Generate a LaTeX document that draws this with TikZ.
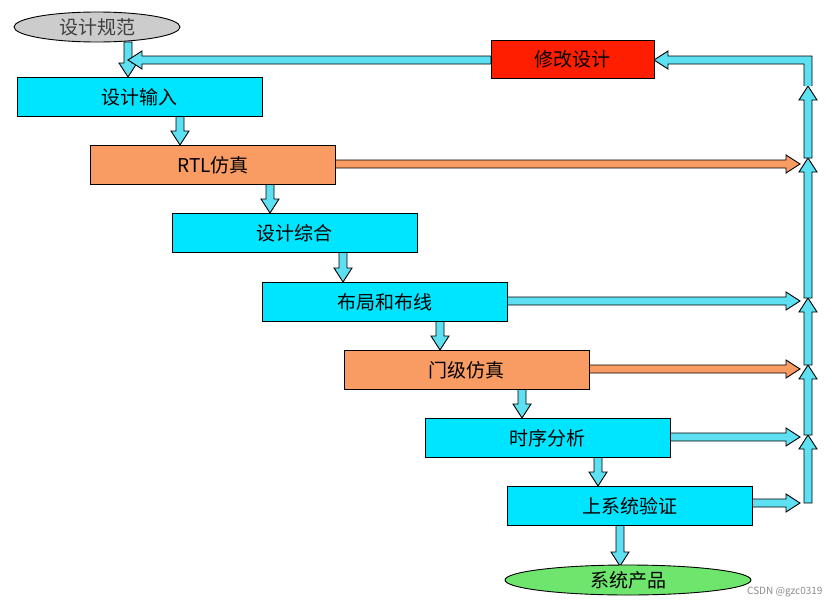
\documentclass[tikz,border=0pt]{standalone}
\usepackage{fontspec}
\usetikzlibrary{shapes.geometric}
\newfontfamily\cjk{Noto Sans CJK SC}
\definecolor{cy}{HTML}{00E5FF}
\definecolor{cya}{HTML}{5CE0F2}
\definecolor{org}{HTML}{F89C64}
\definecolor{rd}{HTML}{FF1E00}
\definecolor{gr}{HTML}{6EE66E}
\newcommand\harr[4]{%
 \pgfmathsetmacro\dir{ifthenelse(#3>#2,1,-1)}%
 \pgfmathsetmacro\hb{#3-\dir*14}%
 \filldraw[fill=#4,draw=black,line width=0.9pt] (#2,#1-4)--(\hb,#1-4)--(\hb,#1-9)--(#3,#1)--(\hb,#1+9)--(\hb,#1+4)--(#2,#1+4)--cycle;}
\newcommand\varr[4]{%
 \pgfmathsetmacro\dir{ifthenelse(#3>#2,1,-1)}%
 \pgfmathsetmacro\hb{#3-\dir*14}%
 \filldraw[fill=#4,draw=black,line width=0.9pt] (#1-4,#2)--(#1-4,\hb)--(#1-9,\hb)--(#1,#3)--(#1+9,\hb)--(#1+4,\hb)--(#1+4,#2)--cycle;}
\tikzset{box/.style={draw=black,line width=0.9pt,minimum width=245pt,minimum height=39pt,inner sep=0pt,font=\cjk\fontsize{19}{19}\selectfont,anchor=north west}}
\begin{document}
\begin{tikzpicture}[x=1pt,y=-1pt]
\useasboundingbox (0,0) rectangle (832,608);
\fill[white] (0,0) rectangle (832,608);
% down arrows
\varr{128}{42}{77}{cya}
\varr{180}{116}{145}{cya}
\varr{270}{184}{213}{cya}
\varr{343}{252}{282}{cya}
\varr{440}{321}{350}{cya}
\varr{522}{389}{418}{cya}
\varr{598}{457}{486}{cya}
\varr{620}{525}{566}{cya}
% horizontal to column
\harr{164}{335}{800}{org}
\harr{301}{507}{800}{cya}
\harr{369}{589}{800}{org}
\harr{437}{670}{800}{cya}
\harr{503}{752}{800}{cya}
% column
\varr{808}{503}{435}{cya}
\varr{808}{435}{365}{cya}
\varr{808}{365}{298}{cya}
\varr{808}{298}{158}{cya}
\varr{808}{158}{86}{cya}
\filldraw[fill=cya,draw=black,line width=0.9pt] (804,86)--(804,64)--(668,64)--(668,69)--(654,60)--(668,51)--(668,56)--(812,56)--(812,86);
\harr{60}{491}{128}{cya}
% nodes
\node[ellipse,draw=black,line width=0.9pt,fill=black!20,minimum width=166pt,minimum height=30pt,inner sep=0pt,font=\cjk\fontsize{19}{19}\selectfont,text=black!75] (spec) at (97,27) {设计规范};
\node[box,fill=cy] (in) at (17,77) {设计输入};
\node[box,fill=org] (rtl) at (90,145) {RTL仿真};
\node[box,fill=cy] (syn) at (172,213) {设计综合};
\node[box,fill=cy] (pr) at (262,282) {布局和布线};
\node[box,fill=org] (gate) at (344,350) {门级仿真};
\node[box,fill=cy] (sta) at (425,418) {时序分析};
\node[box,fill=cy] (sys) at (507,486) {上系统验证};
\node[box,fill=rd,minimum width=163pt,minimum height=38pt] (mod) at (491,40) {修改设计};
\node[ellipse,draw=black,line width=0.9pt,fill=gr,minimum width=246pt,minimum height=30pt,inner sep=0pt,font=\cjk\fontsize{19}{19}\selectfont] (prod) at (628,580) {系统产品};
\node[font=\cjk\fontsize{10}{10}\selectfont,text=black!45,anchor=east] (wm) at (826,592) {CSDN @gzc0319};
\end{tikzpicture}
\end{document}
